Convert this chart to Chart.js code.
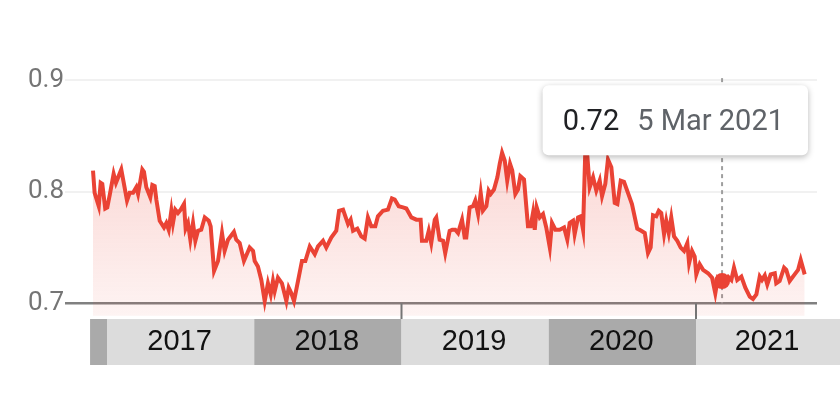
<!DOCTYPE html>
<html>
<head>
<meta charset="utf-8">
<title>Exchange rate</title>
<script src="https://cdn.jsdelivr.net/npm/chart.js"></script>
<style>
  body { margin: 0; background: #fff; }
  #wrap { width: 840px; height: 400px; }
</style>
</head>
<body>
<div id="wrap"><canvas id="rateChart"></canvas></div>
<script>
// dates as decimal years, one line per year
const dates = [
  2016.905, 2016.916, 2016.944, 2016.957, 2016.968, 2016.988,
  2017.002, 2017.020, 2017.045, 2017.061, 2017.097, 2017.111, 2017.136, 2017.154, 2017.177, 2017.199, 2017.211, 2017.240, 2017.251, 2017.267, 2017.294, 2017.308, 2017.324, 2017.335, 2017.358, 2017.387, 2017.403, 2017.419, 2017.437, 2017.448, 2017.464, 2017.482, 2017.501, 2017.523, 2017.534, 2017.550, 2017.566, 2017.584, 2017.600, 2017.618, 2017.640, 2017.664, 2017.691, 2017.704, 2017.727, 2017.754, 2017.781, 2017.799, 2017.822, 2017.862, 2017.878, 2017.901, 2017.930, 2017.969, 2017.992,
  2018.003, 2018.025, 2018.048, 2018.071, 2018.093, 2018.112, 2018.127, 2018.139, 2018.161, 2018.188, 2018.218, 2018.234, 2018.252, 2018.270, 2018.297, 2018.324, 2018.347, 2018.377, 2018.411, 2018.433, 2018.467, 2018.489, 2018.523, 2018.557, 2018.576, 2018.603, 2018.637, 2018.655, 2018.671, 2018.700, 2018.727, 2018.750, 2018.772, 2018.795, 2018.822, 2018.840, 2018.874, 2018.908, 2018.935, 2018.954, 2018.981,
  2019.010, 2019.033, 2019.067, 2019.101, 2019.130, 2019.139, 2019.168, 2019.185, 2019.202, 2019.226, 2019.236, 2019.259, 2019.282, 2019.297, 2019.327, 2019.345, 2019.365, 2019.384, 2019.411, 2019.429, 2019.440, 2019.463, 2019.486, 2019.501, 2019.520, 2019.538, 2019.553, 2019.576, 2019.592, 2019.606, 2019.628, 2019.651, 2019.667, 2019.683, 2019.701, 2019.718, 2019.737, 2019.752, 2019.773, 2019.791, 2019.807, 2019.832, 2019.859, 2019.877, 2019.893, 2019.905, 2019.918, 2019.939, 2019.961, 2019.983,
  2020.007, 2020.022, 2020.045, 2020.074, 2020.104, 2020.126, 2020.142, 2020.165, 2020.176, 2020.199, 2020.217, 2020.233, 2020.250, 2020.262, 2020.278, 2020.301, 2020.323, 2020.346, 2020.362, 2020.384, 2020.402, 2020.425, 2020.448, 2020.466, 2020.489, 2020.511, 2020.538, 2020.565, 2020.601, 2020.628, 2020.652, 2020.674, 2020.692, 2020.708, 2020.730, 2020.747, 2020.764, 2020.783, 2020.798, 2020.815, 2020.832, 2020.851, 2020.873, 2020.896, 2020.919, 2020.941, 2020.953, 2020.973, 2020.991,
  2021.002, 2021.025, 2021.048, 2021.082, 2021.109, 2021.131, 2021.149, 2021.177, 2021.217, 2021.240, 2021.258, 2021.280, 2021.308, 2021.335, 2021.365, 2021.387, 2021.410, 2021.433, 2021.448, 2021.467, 2021.484, 2021.507, 2021.535, 2021.545, 2021.568, 2021.598, 2021.613, 2021.636, 2021.670, 2021.693, 2021.711, 2021.738
];
const rates = [
  0.819, 0.799, 0.787, 0.808, 0.807, 0.785,
  0.786, 0.798, 0.816, 0.808, 0.820, 0.810, 0.792, 0.799, 0.799, 0.804, 0.798, 0.820, 0.818, 0.804, 0.795, 0.806, 0.805, 0.793, 0.774, 0.768, 0.772, 0.766, 0.783, 0.772, 0.784, 0.781, 0.784, 0.789, 0.767, 0.772, 0.757, 0.772, 0.756, 0.765, 0.766, 0.777, 0.774, 0.769, 0.729, 0.738, 0.763, 0.747, 0.757, 0.764, 0.757, 0.754, 0.738, 0.750, 0.747,
  0.738, 0.733, 0.721, 0.702, 0.718, 0.708, 0.720, 0.711, 0.723, 0.718, 0.702, 0.714, 0.709, 0.702, 0.720, 0.738, 0.738, 0.751, 0.744, 0.751, 0.756, 0.750, 0.759, 0.765, 0.783, 0.784, 0.771, 0.775, 0.765, 0.767, 0.760, 0.758, 0.777, 0.769, 0.769, 0.778, 0.783, 0.784, 0.794, 0.793, 0.787,
  0.786, 0.785, 0.777, 0.775, 0.775, 0.756, 0.756, 0.765, 0.754, 0.775, 0.777, 0.757, 0.756, 0.745, 0.765, 0.766, 0.766, 0.763, 0.775, 0.759, 0.759, 0.786, 0.787, 0.792, 0.780, 0.799, 0.783, 0.787, 0.801, 0.798, 0.802, 0.813, 0.825, 0.835, 0.828, 0.810, 0.825, 0.819, 0.798, 0.802, 0.814, 0.811, 0.769, 0.769, 0.781, 0.766, 0.786, 0.777, 0.780, 0.768,
  0.750, 0.772, 0.766, 0.766, 0.768, 0.757, 0.772, 0.774, 0.762, 0.777, 0.778, 0.766, 0.845, 0.832, 0.804, 0.813, 0.801, 0.810, 0.796, 0.807, 0.829, 0.822, 0.790, 0.789, 0.810, 0.809, 0.799, 0.789, 0.767, 0.765, 0.763, 0.745, 0.750, 0.779, 0.778, 0.783, 0.781, 0.762, 0.774, 0.763, 0.777, 0.760, 0.756, 0.750, 0.747, 0.754, 0.736, 0.747, 0.742,
  0.726, 0.735, 0.730, 0.727, 0.723, 0.709, 0.723, 0.720, 0.724, 0.721, 0.732, 0.721, 0.724, 0.714, 0.706, 0.704, 0.708, 0.724, 0.721, 0.725, 0.717, 0.726, 0.727, 0.718, 0.720, 0.732, 0.730, 0.720, 0.726, 0.730, 0.739, 0.726
];
const yTicks = [0.7, 0.8, 0.9];
const years = [2016, 2017, 2018, 2019, 2020, 2021];
const bandStart = 2016.885;
const yearTicks = [2019, 2021];
const hoverDate = 2021.177;
const hoverLabel = '5 Mar 2021';

const RED = '#ea4335';
const hi = dates.indexOf(hoverDate);

// dashed guide under the line, tooltip box on top
const crosshair = {
  id: 'crosshair',
  beforeDatasetsDraw(chart) {
    const pt = chart.getDatasetMeta(0).data[hi];
    const y = chart.scales.y;
    const c = chart.ctx;
    c.save();
    c.strokeStyle = '#9e9e9e';
    c.lineWidth = 2;
    c.setLineDash([4, 4]);
    c.beginPath();
    c.moveTo(pt.x, y.getPixelForValue(0.9) - 2);
    c.lineTo(pt.x, y.getPixelForValue(0.7));
    c.stroke();
    c.restore();
  },
  afterDraw(chart) {
    const pt = chart.getDatasetMeta(0).data[hi];
    const c = chart.ctx;
    const a = chart.chartArea;
    const valText = rates[hi].toFixed(2);
    c.save();
    c.font = '29px Roboto, sans-serif';
    const w1 = c.measureText(valText).width;
    const w2 = c.measureText(hoverLabel).width;
    const w = 20 + w1 + 18 + w2 + 24, h = 70;
    const left = Math.min(pt.x - w / 2, a.right - 9 - w);
    const top = chart.scales.y.getPixelForValue(0.9) + 5;
    c.shadowColor = 'rgba(0,0,0,0.28)';
    c.shadowBlur = 6;
    c.shadowOffsetY = 2;
    c.fillStyle = '#fff';
    c.beginPath();
    c.roundRect(left, top, w, h, 6);
    c.fill();
    c.shadowColor = 'transparent';
    c.textBaseline = 'alphabetic';
    c.fillStyle = '#202124';
    c.fillText(valText, left + 20, top + 45);
    c.fillStyle = '#5f6368';
    c.fillText(hoverLabel, left + 20 + w1 + 18, top + 45);
    c.restore();
  }
};

// year strip under the plot
const yearBand = {
  id: 'yearBand',
  afterDraw(chart) {
    const x = chart.scales.x, y = chart.scales.y, c = chart.ctx;
    const top = chart.chartArea.bottom, h = 46;
    c.save();
    years.forEach((yr, i) => {
      const x0 = x.getPixelForValue(i === 0 ? bandStart : yr);
      const x1 = Math.min(x.getPixelForValue(yr + 1), chart.width);
      c.fillStyle = i % 2 ? '#dcdcdc' : '#aaaaaa';
      c.fillRect(x0, top, x1 - x0, h);
      if (x1 - x0 > 60) {
        c.fillStyle = '#111';
        c.font = '29px "Liberation Sans", Arial, sans-serif';
        c.textAlign = 'center';
        c.fillText(String(yr), (x0 + x1) / 2 - 1, top + 31);
      }
    });
    c.strokeStyle = '#757575';
    c.lineWidth = 2;
    const y0 = y.getPixelForValue(0.7);
    yearTicks.forEach(yr => {
      const px = x.getPixelForValue(yr);
      c.beginPath();
      c.moveTo(px, y0);
      c.lineTo(px, top);
      c.stroke();
    });
    c.restore();
  }
};

new Chart(document.getElementById('rateChart'), {
  type: 'line',
  data: {
    datasets: [{
      data: dates.map((d, i) => ({ x: d, y: rates[i] })),
      borderColor: RED,
      borderWidth: 4,
      tension: 0,
      pointRadius: ctx => ctx.dataIndex === hi ? 8 : 0,
      pointHoverRadius: ctx => ctx.dataIndex === hi ? 8 : 0,
      pointBackgroundColor: RED,
      pointBorderWidth: 0,
      fill: { value: 0.689 },
      backgroundColor(ctx) {
        const a = ctx.chart.chartArea;
        if (!a) return 'rgba(234,67,53,0.12)';
        const g = ctx.chart.ctx.createLinearGradient(0, a.top + 140, 0, a.bottom);
        g.addColorStop(0, 'rgba(234,67,53,0.22)');
        g.addColorStop(1, 'rgba(234,67,53,0.06)');
        return g;
      }
    }]
  },
  options: {
    responsive: true,
    maintainAspectRatio: false,
    animation: false,
    events: [],
    layout: { padding: { top: 2, right: 23, bottom: 81, left: 0 } },
    plugins: { legend: { display: false }, tooltip: { enabled: false } },
    scales: {
      x: { type: 'linear', min: 2016.7148, max: 2021.8217, display: false },
      y: {
        min: 0.686,
        max: 0.97,
        afterBuildTicks: s => { s.ticks = yTicks.map(v => ({ value: v })); },
        afterFit: s => { s.width = 65; s.paddingTop = 0; s.paddingBottom = 0; },
        border: { display: false },
        grid: {
          drawTicks: false,
          color: ctx => ctx.tick && ctx.tick.value === 0.7 ? '#808080' : '#f1f1f1',
          lineWidth: ctx => ctx.tick && ctx.tick.value === 0.7 ? 2.5 : 2
        },
        ticks: {
          padding: 1,
          color: '#757575',
          font: { family: 'Roboto', size: 26 },
          callback: v => v.toFixed(1)
        }
      }
    }
  },
  plugins: [crosshair, yearBand]
});
</script>
</body>
</html>
